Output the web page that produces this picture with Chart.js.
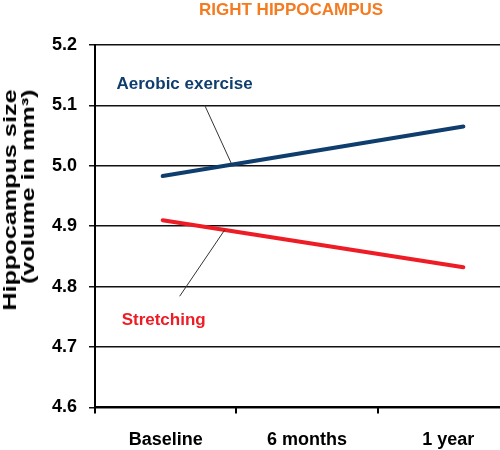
<!DOCTYPE html>
<html>
<head>
<meta charset="utf-8">
<script src="https://cdn.jsdelivr.net/npm/chart.js@4/dist/chart.umd.min.js"></script>
<style>
  html, body { margin: 0; padding: 0; background: #fff; overflow: hidden; }
  #wrap { position: relative; width: 500px; height: 450px; overflow: hidden; }
  canvas { position: absolute; left: 0; top: 0; }
  .title {
    position: absolute; left: 199px; top: 0; line-height: 18px;
    font: bold 17px "Liberation Sans", Arial, sans-serif; color: #f47b20;
    white-space: nowrap;
  }
  .ytitle {
    position: absolute; left: 19px; top: 200px;
    font: bold 18px "Liberation Sans", Arial, sans-serif; line-height: 18px;
    color: #000; white-space: nowrap; text-align: right;
    transform: translate(-50%, -50%) rotate(-90deg) scaleX(1.4);
  }
</style>
</head>
<body>
<div id="wrap">
  <canvas id="chart" width="530" height="467"></canvas>
  <div class="title">RIGHT HIPPOCAMPUS</div>
  <div class="ytitle">Hippocampus size<br>(volume in mm³)</div>
</div>
<script>
const categories = ['Baseline', '6 months', '1 year'];
const aerobic = [4.983, null, 5.065];
const stretching = [4.91, null, 4.832];
const yTicks = [4.6, 4.7, 4.8, 4.9, 5.0, 5.1, 5.2];

const NAVY = '#0f3e6e';
const RED = '#ee1c24';
const FONT = '"Liberation Sans", Arial, sans-serif';

// labels with leader lines, in axis units (x = category index)
const notes = [
  { text: 'Aerobic exercise', color: NAVY, x: -0.307, y: 5.135, from: [0.28, 5.1], to: [0.46, 5.002] },
  { text: 'Stretching', color: RED, x: -0.273, y: 4.744, from: [0.113, 4.784], to: [0.413, 4.894] }
];

function toPoints(values) {
  return values
    .map((v, i) => ({ x: i, y: v }))
    .filter(p => p.y !== null);
}

const notesPlugin = {
  id: 'notes',
  afterDatasetsDraw(chart) {
    const ctx = chart.ctx;
    const xs = chart.scales.xl;
    const ys = chart.scales.y;
    ctx.save();
    notes.forEach(n => {
      ctx.beginPath();
      ctx.strokeStyle = '#333';
      ctx.lineWidth = 1;
      ctx.moveTo(xs.getPixelForValue(n.from[0]), ys.getPixelForValue(n.from[1]));
      ctx.lineTo(xs.getPixelForValue(n.to[0]), ys.getPixelForValue(n.to[1]));
      ctx.stroke();
      ctx.fillStyle = n.color;
      ctx.font = 'bold 17px ' + FONT;
      ctx.textAlign = 'left';
      ctx.textBaseline = 'middle';
      ctx.fillText(n.text, xs.getPixelForValue(n.x), ys.getPixelForValue(n.y));
    });
    ctx.restore();
  }
};

new Chart(document.getElementById('chart'), {
  type: 'line',
  data: {
    labels: categories,
    datasets: [
      {
        label: 'Aerobic exercise',
        data: toPoints(aerobic),
        xAxisID: 'xl',
        borderColor: NAVY,
        borderWidth: 4,
        borderCapStyle: 'round',
        pointRadius: 0
      },
      {
        label: 'Stretching',
        data: toPoints(stretching),
        xAxisID: 'xl',
        borderColor: RED,
        borderWidth: 4,
        borderCapStyle: 'round',
        pointRadius: 0
      }
    ]
  },
  options: {
    responsive: false,
    animation: false,
    layout: { padding: { top: 45, left: 40, right: 11, bottom: 0 } },
    plugins: {
      legend: { display: false },
      tooltip: { enabled: false }
    },
    scales: {
      x: {
        type: 'category',
        offset: true,
        grid: { offset: true, drawOnChartArea: false, color: '#000', lineWidth: 2, tickLength: 6 },
        border: { color: '#000', width: 2 },
        ticks: { color: '#000', font: { family: FONT, size: 18, weight: 'bold' }, padding: 16 }
      },
      xl: {
        type: 'linear',
        display: false,
        min: -0.45,
        max: 2.37
      },
      y: {
        min: yTicks[0],
        max: yTicks[yTicks.length - 1],
        afterBuildTicks(axis) {
          axis.ticks = yTicks.map(v => ({ value: v }));
        },
        grid: { color: '#111', lineWidth: 1.5, tickLength: 6 },
        border: { color: '#000', width: 2 },
        ticks: {
          color: '#000',
          font: { family: FONT, size: 18, weight: 'bold' },
          padding: 12,
          callback: v => v.toFixed(1)
        }
      }
    }
  },
  plugins: [notesPlugin]
});
</script>
</body>
</html>
